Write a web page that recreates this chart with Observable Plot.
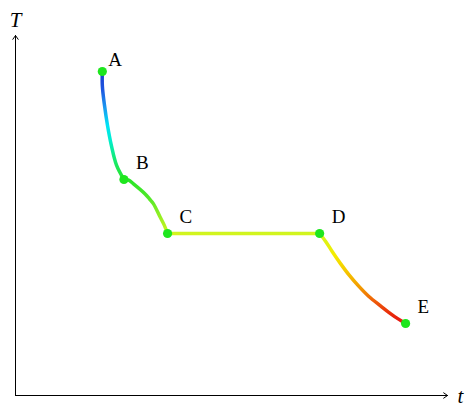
<!DOCTYPE html>
<html>
<head>
<meta charset="utf-8">
<script src="https://cdn.jsdelivr.net/npm/d3@7"></script>
<script src="https://cdn.jsdelivr.net/npm/@observablehq/plot@0.6"></script>
<style>
  html, body { margin: 0; padding: 0; background: #fff; }
  svg { display: block; }
</style>
</head>
<body>
<div id="chart"></div>
<script>
// Curve samples, one pair of arrays per stage
// (t = time, T = temperature, arbitrary units)
const abTime = [2.01, 2.01, 2.06, 2.13, 2.22, 2.34, 2.51];
const abTemp = [9.00, 8.61, 8.06, 7.50, 6.94, 6.39, 6.00];
const bcTime = [2.51, 2.62, 2.73, 3.00, 3.10, 3.19, 3.35, 3.44, 3.52];
const bcTemp = [6.00, 5.98, 5.88, 5.60, 5.46, 5.33, 4.95, 4.74, 4.50];
const cdTime = [3.52, 7.04];
const cdTemp = [4.50, 4.50];
const deTime = [7.04, 7.18, 7.33, 7.52, 7.72, 7.95, 8.18, 8.45, 8.72, 9.03];
const deTemp = [4.50, 4.28, 4.00, 3.67, 3.35, 3.03, 2.75, 2.49, 2.24, 2.00];

// Labelled points
const pointNames = ["A", "B", "C", "D", "E"];
const pointTime  = [2.01, 2.51, 3.52, 7.04, 9.03];
const pointTemp  = [9.00, 6.00, 4.50, 4.50, 2.00];

// Axes extent and labels
const axisTime = [0, 10];
const axisTemp = [0, 10];
const axisLabels = ["t", "T"];

// Colour of the curve as a function of temperature
const colorStops  = [2.0, 2.25, 2.6, 3.0, 3.5, 3.9, 4.5, 5.5, 6.0, 6.6, 7.1, 7.5, 8.0, 8.5, 9.0];
const colorValues = ["#e61414", "#e8280a", "#ee5a0a", "#f29a00", "#f5cc00", "#f5ec00",
                     "#d2f51e", "#50e828", "#28e628", "#14ea78", "#00eed0", "#00e4f5",
                     "#1a98f0", "#1e56e0", "#1a3ccc"];

const stages = [
  ["AB", abTime, abTemp], ["BC", bcTime, bcTemp],
  ["CD", cdTime, cdTemp], ["DE", deTime, deTemp]
];
const curve = stages.flatMap(([stage, ts, Ts]) => ts.map((t, i) => ({stage, t, T: Ts[i]})));
const points = pointNames.map((name, i) => ({name, t: pointTime[i], T: pointTemp[i]}));
const axes = [
  {x1: axisTime[0], y1: axisTemp[0], x2: axisTime[1], y2: axisTemp[0]},
  {x1: axisTime[0], y1: axisTemp[0], x2: axisTime[0], y2: axisTemp[1]}
];
const serif = "'Liberation Serif', 'DejaVu Serif', serif";

const chart = Plot.plot({
  width: 474,
  height: 410,
  marginLeft: 15,
  marginRight: 27,
  marginTop: 35,
  marginBottom: 15,
  x: {domain: axisTime, axis: null},
  y: {domain: axisTemp, axis: null},
  marks: [
    Plot.arrow(axes, {x1: "x1", y1: "y1", x2: "x2", y2: "y2",
      stroke: "black", strokeWidth: 1, headLength: 7, headAngle: 70}),
    Plot.line(curve, {x: "t", y: "T", z: "stage", curve: "catmull-rom",
      stroke: "url(#tempGradient)",
      strokeWidth: 3.5, strokeLinecap: "round", strokeLinejoin: "round"}),
    Plot.dot(points, {x: "t", y: "T", r: 4.6, fill: "#1ee61e", stroke: "none"}),
    Plot.text(points.filter(d => d.name === "A"), {x: "t", y: "T", text: "name",
      dx: 6, dy: -6, textAnchor: "start", lineAnchor: "bottom",
      fontSize: 19, fontFamily: serif, fill: "black"}),
    Plot.text(points.filter(d => d.name !== "A"), {x: "t", y: "T", text: "name",
      dx: 12, dy: -11, textAnchor: "start", lineAnchor: "bottom",
      fontSize: 19, fontFamily: serif, fill: "black"}),
    Plot.text([axisLabels[0]], {x: axisTime[1], y: axisTemp[0], text: d => d,
      dx: 13, dy: 7, textAnchor: "middle", lineAnchor: "bottom",
      fontSize: 21, fontStyle: "italic", fontFamily: serif, fill: "black"}),
    Plot.text([axisLabels[1]], {x: axisTime[0], y: axisTemp[1], text: d => d,
      dx: 0, dy: -9, textAnchor: "middle", lineAnchor: "bottom",
      fontSize: 21, fontStyle: "italic", fontFamily: serif, fill: "black"})
  ]
});

// Vertical gradient positioned with the chart's own y scale (stops in ascending offset)
const yScale = chart.scale("y");
const tMin = d3.min(colorStops), tMax = d3.max(colorStops);
const yTop = yScale.apply(tMax), yBottom = yScale.apply(tMin);
const gradientStops = colorStops
  .map((T, i) => ({offset: (yScale.apply(T) - yTop) / (yBottom - yTop), color: colorValues[i]}))
  .sort((a, b) => a.offset - b.offset);
d3.select(chart).insert("defs", ":first-child")
  .append("linearGradient")
    .attr("id", "tempGradient")
    .attr("gradientUnits", "userSpaceOnUse")
    .attr("x1", 0).attr("x2", 0)
    .attr("y1", yTop).attr("y2", yBottom)
  .selectAll("stop")
  .data(gradientStops)
  .join("stop")
    .attr("offset", d => d.offset)
    .attr("stop-color", d => d.color);

document.getElementById("chart").appendChild(chart);
</script>
</body>
</html>
